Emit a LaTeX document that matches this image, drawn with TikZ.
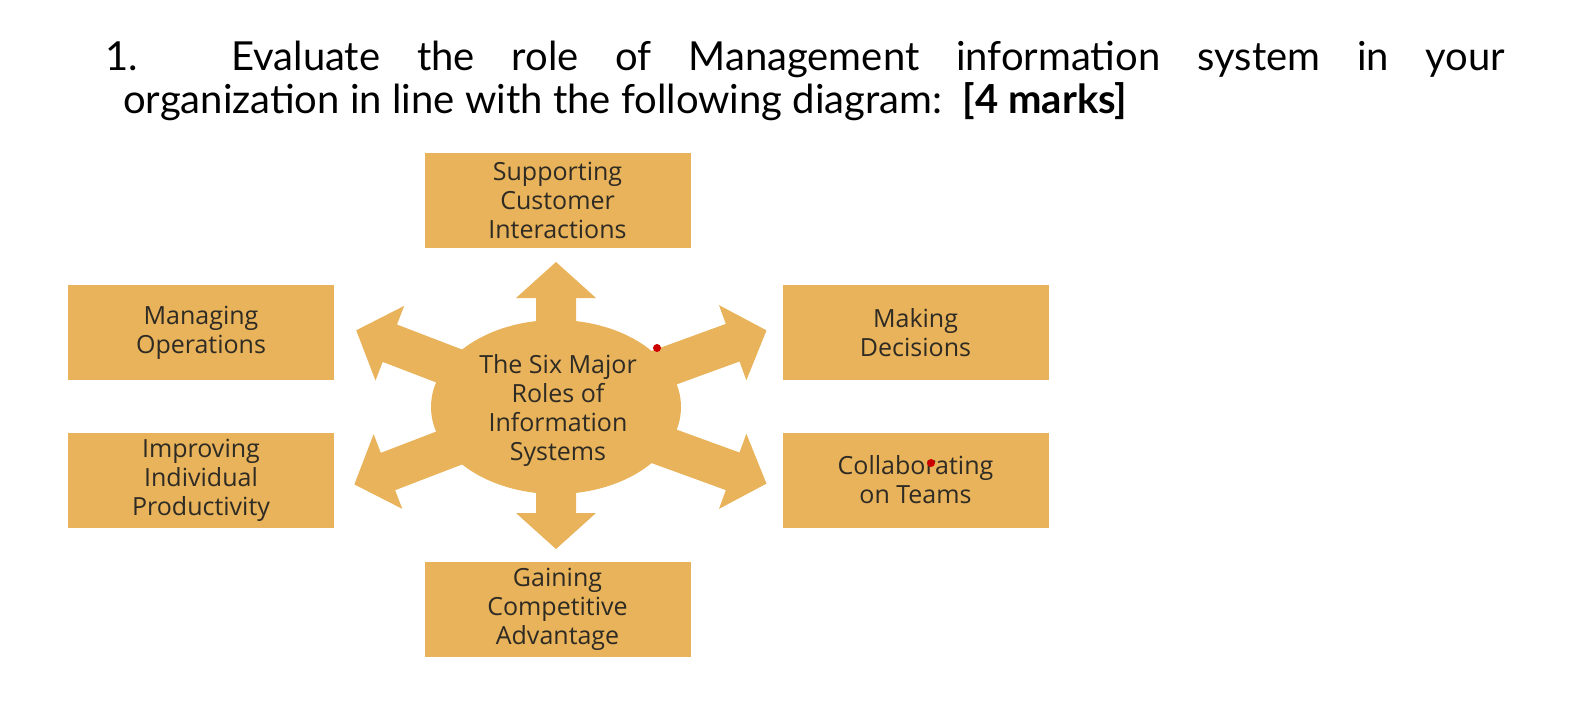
\documentclass[tikz,border=0pt]{standalone}
\usepackage{fontspec}
\usetikzlibrary{shapes.geometric}
\setmainfont{Lato}
\newfontfamily\boxfont{Open Sans}
\definecolor{gold}{HTML}{E8B35A}
\definecolor{txt}{HTML}{2E2A24}
\begin{document}
\begin{tikzpicture}[x=1pt,y=1pt,
  rolebox/.style={fill=gold, minimum width=266pt, minimum height=95pt, inner sep=0pt, align=center, font=\boxfont\fontsize{25}{29}\selectfont, text=txt},
  bigarr/.style={fill=gold}]
\useasboundingbox (0,0) rectangle (1576,-713);
\node[anchor=base west, inner sep=0pt, font=\fontsize{40}{46}\selectfont] (t1) at (105,-70) {\makebox[1400pt][s]{1. Evaluate the role of Management information system in your}};
\node[anchor=base west, inner sep=0pt, font=\fontsize{40}{46}\selectfont] (t2) at (123,-113) {organization in line with the following diagram:\ \ \textbf{[4 marks]}};
% boxes
\node[rolebox] (sci) at (557.5,-200.5) {Supporting\\Customer\\Interactions};
\node[rolebox] (mo) at (201,-332.5) {Managing\\Operations};
\node[rolebox] (iip) at (201,-480) {Improving\\Individual\\Productivity};
\node[rolebox] (md) at (915.5,-332.5) {Making\\Decisions};
\node[rolebox] (ct) at (915.5,-480) {Collaborating\\on Teams};
\node[rolebox] (gca) at (557.5,-609.5) {Gaining\\Competitive\\Advantage};
% arrows
\foreach \ang/\len in {90/145, 270/142, 159/214, 20/224, 201/216, -20/224}{
  \begin{scope}[shift={(556,-407)}, rotate=\ang]
    \fill[bigarr] (0,-20) -- (\len-36,-20) -- (\len-36,-40) -- (\len,0) -- (\len-36,40) -- (\len-36,20) -- (0,20) -- cycle;
  \end{scope}}
\node[ellipse, fill=gold, minimum width=250pt, minimum height=174pt, inner sep=0pt] (c) at (556,-407) {};
\node[align=center, font=\boxfont\fontsize{25}{29}\selectfont, text=txt] (ct2) at (558,-410) {The Six Major\\Roles of\\Information\\Systems};
\fill[red!80!black] (657,-348) circle (4);
\fill[red!80!black] (931,-463) circle (4);
\end{tikzpicture}
\end{document}
